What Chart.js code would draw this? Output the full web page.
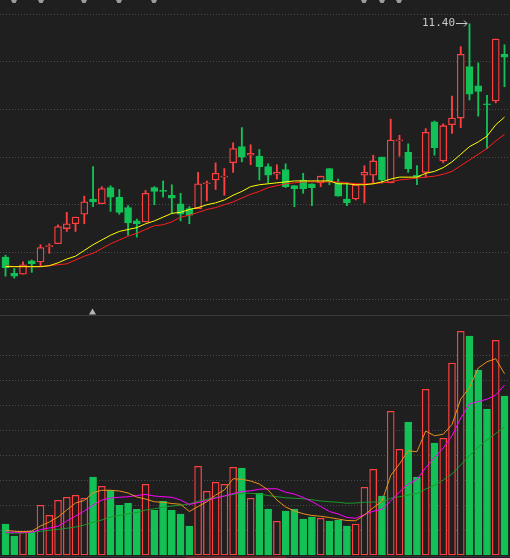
<!DOCTYPE html>
<html><head><meta charset="utf-8">
<script src="https://cdn.jsdelivr.net/npm/chart.js@4.4.1/dist/chart.umd.min.js"></script>
<style>
html,body{margin:0;padding:0;background:#1f1f1f;width:510px;height:558px;overflow:hidden}
#wrap{position:relative;width:510px;height:558px}
canvas{position:absolute;left:0}
#pc{top:0}
#vc{top:316px}
.sep{position:absolute;left:0;width:510px;top:315px;height:1px;background:#3a3a3a}
.bot{position:absolute;left:0;width:510px;top:556px;height:1px;background:#333333}
.thumb{position:absolute;left:186px;width:100px;top:556px;height:2px;background:#5c2626}
</style></head>
<body>
<div id="wrap">
<canvas id="pc" width="510" height="315"></canvas>
<div class="sep"></div>
<canvas id="vc" width="510" height="239"></canvas>
<div class="bot"></div><div class="thumb"></div>
</div>
<script>
// ---- data ----
const idx = [0,1,2,3,4,5,6,7,8,9,10,11,12,13,14,15,16,17,18,19,20,21,22,23,24,25,26,27,28,29,30,31,32,33,34,35,36,37,38,39,40,41,42,43,44,45,46,47,48,49,50,51,52,53,54,55,56,57];
const open  = [8.95,8.78,8.77,8.91,8.90,9.06,9.09,9.25,9.30,9.40, 9.56,9.51,9.68,9.58,9.47,9.33,9.32,9.68,9.65,9.60, 9.51,9.46,9.46,9.72,9.76,9.79,9.94,10.11,10.02,10.01, 9.90,9.82,9.87,9.70,9.76,9.72,9.73,9.88,9.73,9.56, 9.56,9.81,9.81,10.00,9.73,10.17,10.05,9.81,9.84,10.37, 9.96,10.34,10.41,10.95,10.75,10.56,10.59,11.08];
const high  = [8.97,8.83,8.90,8.92,9.08,9.09,9.29,9.42,9.37,9.59, 9.90,9.69,9.70,9.66,9.49,9.35,9.65,9.69,9.75,9.71, 9.62,9.48,9.84,9.75,9.94,9.88,10.15,10.31,10.13,10.08, 9.93,9.92,9.93,9.70,9.83,9.72,9.80,9.88,9.77,9.73, 9.71,9.91,10.02,10.00,10.40,10.23,10.14,9.91,10.30,10.38, 10.35,10.64,11.16,11.40,10.99,10.65,11.24,11.18];
const low   = [8.75,8.73,8.77,8.79,8.86,8.99,9.09,9.22,9.22,9.30, 9.48,9.51,9.43,9.40,9.18,9.16,9.32,9.50,9.58,9.41, 9.33,9.30,9.46,9.54,9.66,9.60,9.84,9.95,9.92,9.76, 9.73,9.77,9.68,9.48,9.62,9.49,9.69,9.71,9.59,9.49, 9.55,9.52,9.73,9.73,9.73,10.01,9.84,9.71,9.79,10.02, 9.94,10.25,10.31,10.60,10.43,10.09,10.57,10.74];
const close = [8.84,8.75,8.87,8.88,9.05,9.07,9.27,9.30,9.37,9.53, 9.53,9.67,9.58,9.42,9.31,9.30,9.62,9.64,9.64,9.57, 9.40,9.39,9.72,9.73,9.83,9.80,10.09,10.00,10.04,9.90, 9.81,9.84,9.69,9.67,9.67,9.68,9.80,9.75,9.59,9.52, 9.71,9.84,9.96,9.76,10.18,10.18,9.88,9.79,10.26,10.10, 10.33,10.41,11.08,10.66,10.69,10.55,11.24,11.05];
const maShort = [8.85,8.85,8.85,8.85,8.85,8.86,8.89,8.93,8.96,9.02, 9.08,9.13,9.18,9.22,9.24,9.26,9.30,9.33,9.37,9.41, 9.42,9.45,9.47,9.50,9.52,9.55,9.60,9.64,9.69,9.71, 9.72,9.73,9.74,9.75,9.75,9.75,9.75,9.75,9.72,9.72, 9.71,9.71,9.72,9.74,9.77,9.79,9.79,9.79,9.83,9.85, 9.89,9.95,10.03,10.11,10.16,10.22,10.34,10.42];
const maLong  = [8.86,8.85,8.85,8.85,8.85,8.86,8.87,8.88,8.92,8.96, 8.99,9.04,9.09,9.13,9.17,9.20,9.24,9.28,9.29,9.32, 9.37,9.39,9.42,9.45,9.47,9.50,9.53,9.57,9.61,9.64, 9.68,9.70,9.72,9.73,9.74,9.74,9.74,9.74,9.74,9.73, 9.72,9.72,9.72,9.73,9.74,9.76,9.77,9.78,9.79,9.80, 9.82,9.85,9.91,9.97,10.03,10.09,10.17,10.24];
const volume  = [1.24,0.76,0.95,0.95,1.99,1.59,2.19,2.31,2.39,2.27, 3.12,2.75,2.59,1.99,2.07,1.83,2.83,1.79,2.15,1.79, 1.64,1.16,3.55,2.55,2.91,2.83,3.51,3.48,2.27,2.47, 1.84,1.35,1.76,1.84,1.44,1.52,1.47,1.36,1.40,1.16, 1.24,2.71,3.43,2.36,5.75,4.23,5.32,3.12,6.63,4.48, 4.67,7.68,8.95,8.76,7.40,5.84,8.59,6.36];
const volMa5  = [0.99,0.95,0.93,0.96,1.16,1.32,1.52,1.80,2.08,2.18, 2.49,2.59,2.59,2.56,2.48,2.32,2.24,2.13,2.11,2.06, 2.03,1.74,1.94,2.13,2.40,2.60,3.05,3.03,2.96,2.84, 2.60,2.20,1.92,1.76,1.65,1.58,1.55,1.50,1.44,1.38, 1.37,1.60,1.89,2.14,3.18,3.64,4.17,4.13,4.96,4.77, 4.83,5.22,6.24,6.70,7.48,7.73,7.85,7.25];
const volMa10 = [0.91,0.91,0.91,0.91,1.02,1.08,1.15,1.36,1.56,1.76, 2.00,2.20,2.28,2.31,2.33,2.38,2.42,2.36,2.33,2.31, 2.20,2.02,2.10,2.18,2.28,2.36,2.46,2.54,2.57,2.63, 2.65,2.65,2.51,2.44,2.30,2.14,1.94,1.74,1.64,1.50, 1.47,1.62,1.75,1.83,2.16,2.52,2.84,3.02,3.50,3.89, 4.28,4.76,5.48,6.04,6.14,6.23,6.40,6.80];
const volMa20 = [0.87,0.87,0.88,0.91,0.95,0.99,1.03,1.07,1.12,1.20, 1.31,1.40,1.52,1.58,1.65,1.70,1.80,1.85,1.91,1.96, 1.99,2.04,2.15,2.23,2.30,2.36,2.42,2.47,2.47,2.44, 2.38,2.33,2.29,2.27,2.25,2.21,2.16,2.13,2.11,2.07, 2.08,2.11,2.12,2.12,2.27,2.33,2.40,2.46,2.64,2.78, 3.00,3.24,3.60,3.98,4.32,4.60,4.86,5.12];
const priceTicks = [8.5,9.0,9.5,10.0,10.5,11.0,11.5];
const volTicks = [1,2,3,4,5,6,7,8];
const infoMarks = [1,4,9,13,17,41,43,45];
const triMark = 10;
const highMarkIdx = 53;

// ---- styles ----
const BG = '#1f1f1f', UP = '#ff4040', DOWN = '#13c157';
const isUp = i => close[i] >= open[i];
const X_MIN = -0.628, X_MAX = 57.628;

function yAxis(min, max, ticks){
  return {
    min, max, position:'left',
    ticks:{display:false},
    grid:{color:'#4a4a4a', lineWidth:1, drawTicks:false},
    border:{display:false, dash:[1,2]},
    afterFit(s){ s.width = 0; },
    afterBuildTicks(s){ s.ticks = ticks.map(v => ({value:v})); }
  };
}
const baseOpts = (ymin, ymax, ticks) => ({
  responsive:false, animation:false, events:[],
  layout:{padding:0},
  plugins:{legend:{display:false}, tooltip:{enabled:false}},
  scales:{
    x:{type:'linear', min:X_MIN, max:X_MAX, offset:false, bounds:'ticks', display:false, grid:{offset:false}},
    y:yAxis(ymin, ymax, ticks)
  }
});

const markPlugin = {
  id:'marks',
  afterDraw(chart){
    const {ctx, scales:{x, y}} = chart;
    ctx.save();
    ctx.fillStyle = '#9c9c9c';
    infoMarks.forEach(i => {
      const px = Math.round(x.getPixelForValue(i));
      ctx.beginPath();
      ctx.moveTo(px-3, 0); ctx.lineTo(px+3, 0);
      ctx.lineTo(px+1.5, 3); ctx.lineTo(px-1.5, 3);
      ctx.closePath(); ctx.fill();
    });
    const hx = Math.round(x.getPixelForValue(highMarkIdx));
    const hy = Math.round(y.getPixelForValue(high[highMarkIdx]));
    ctx.font = '11px "DejaVu Sans Mono", monospace';
    ctx.fillStyle = '#c8c8c8';
    ctx.textAlign = 'right'; ctx.textBaseline = 'middle';
    ctx.fillText(high[highMarkIdx].toFixed(2), hx - 14, hy - 0.5);
    ctx.strokeStyle = '#c8c8c8'; ctx.lineWidth = 1;
    ctx.beginPath();
    ctx.moveTo(hx - 13, hy - 0.5); ctx.lineTo(hx - 2, hy - 0.5);
    ctx.moveTo(hx - 5, hy - 3.5); ctx.lineTo(hx - 2, hy - 0.5); ctx.lineTo(hx - 5, hy + 2.5);
    ctx.stroke();
    const tx = Math.round(x.getPixelForValue(triMark)) - 0.5;
    ctx.fillStyle = '#b4b4b4';
    ctx.beginPath();
    ctx.moveTo(tx - 3.5, 314.5); ctx.lineTo(tx + 3.5, 314.5); ctx.lineTo(tx, 308.5);
    ctx.closePath(); ctx.fill();
    ctx.restore();
  }
};

new Chart(document.getElementById('pc'), {
  type:'bar',
  data:{datasets:[
    {type:'line', data: idx.map(i => ({x:i, y:maShort[i]})), borderColor:'#ffff00', borderWidth:1, pointRadius:0, tension:0, order:0},
    {type:'line', data: idx.map(i => ({x:i, y:maLong[i]})), borderColor:'#ff1e1e', borderWidth:1, pointRadius:0, tension:0, order:0},
    {type:'bar', data: idx.map(i => ({x:i, y:[open[i], close[i]]})),
      backgroundColor: idx.map(i => isUp(i) ? BG : DOWN),
      borderColor: idx.map(i => isUp(i) ? UP : DOWN),
      borderWidth: idx.map(i => isUp(i) ? 1.3 : 1), borderSkipped:false, barThickness:7, minBarLength:1, grouped:false, order:1},
    {type:'bar', data: idx.map(i => ({x:i, y:[low[i], high[i]]})),
      backgroundColor: idx.map(i => isUp(i) ? UP : DOWN),
      barThickness:1.2, grouped:false, order:2}
  ]},
  options: baseOpts(8.3422, 11.650, priceTicks),
  plugins:[markPlugin]
});

new Chart(document.getElementById('vc'), {
  type:'bar',
  data:{datasets:[
    {type:'line', data: idx.map(i => ({x:i, y:volMa5[i]})), borderColor:'#e8901c', borderWidth:1, pointRadius:0, tension:0, order:0},
    {type:'line', data: idx.map(i => ({x:i, y:volMa10[i]})), borderColor:'#ff00ff', borderWidth:1, pointRadius:0, tension:0, order:0},
    {type:'line', data: idx.map(i => ({x:i, y:volMa20[i]})), borderColor:'#1a9a2a', borderWidth:1, pointRadius:0, tension:0, order:0},
    {type:'bar', data: idx.map(i => ({x:i, y:volume[i]})),
      backgroundColor: idx.map(i => isUp(i) ? BG : DOWN),
      borderColor: idx.map(i => isUp(i) ? UP : DOWN),
      borderWidth: idx.map(i => isUp(i) ? 1.3 : 1), borderSkipped:false, barThickness:7, grouped:false, order:1}
  ]},
  options: baseOpts(0, 9.56, volTicks)
});
</script>
</body></html>
